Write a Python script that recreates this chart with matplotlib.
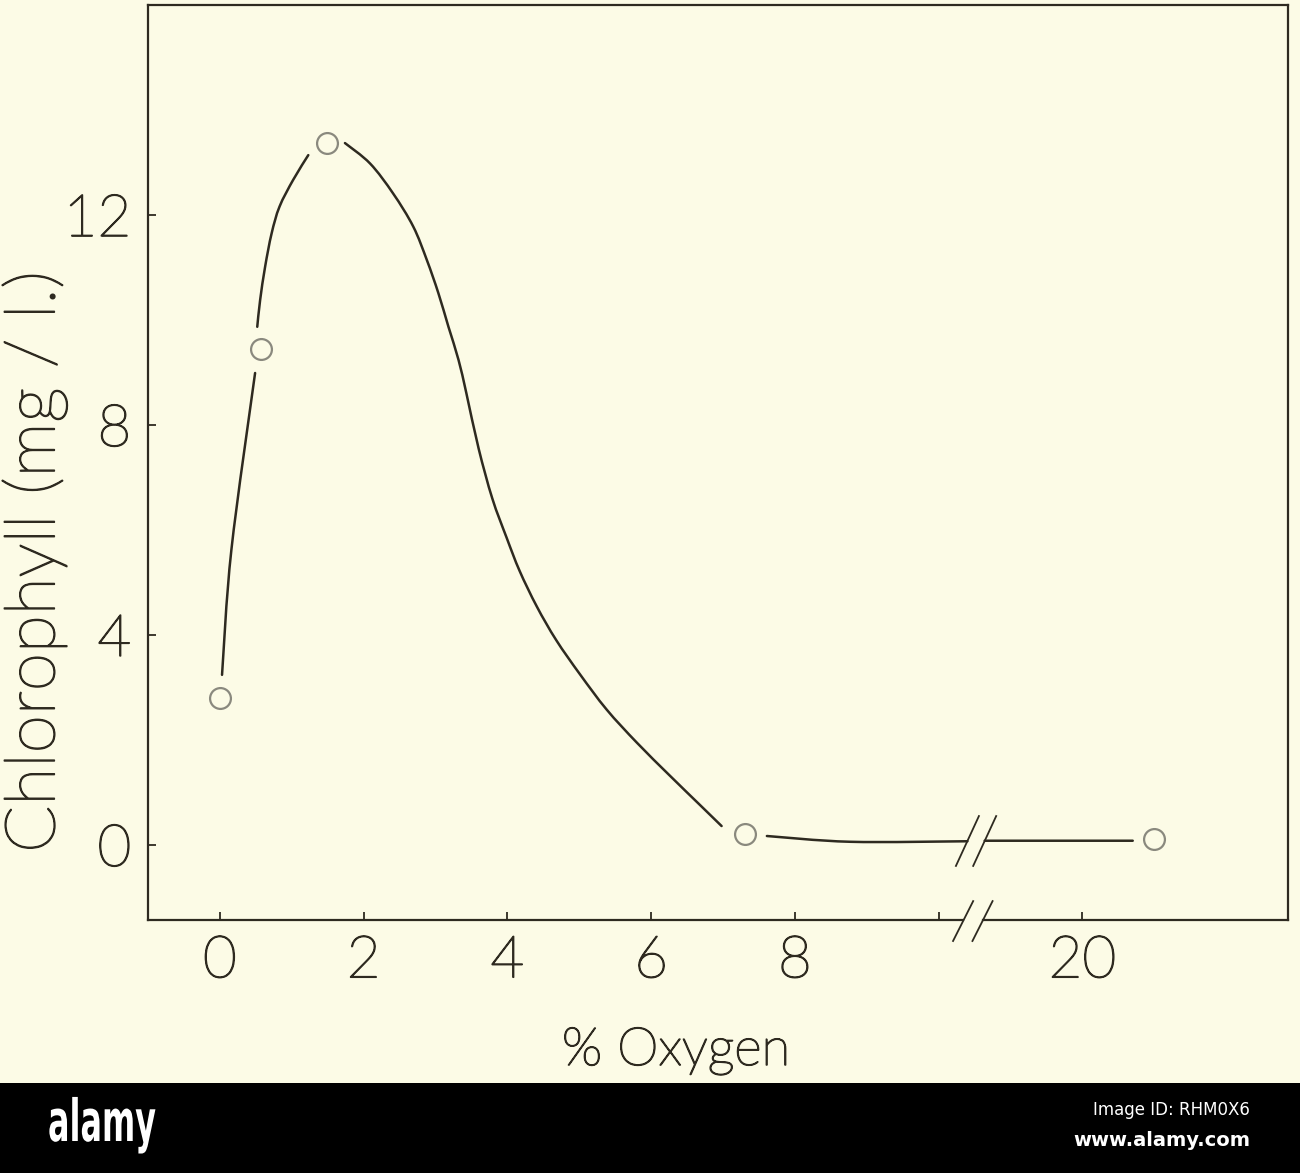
import matplotlib
matplotlib.use("Agg")
import matplotlib.pyplot as plt
import matplotlib.patheffects as pe
from matplotlib.path import Path
from matplotlib.patches import PathPatch
from matplotlib.textpath import TextPath
from matplotlib.font_manager import FontProperties
from matplotlib.transforms import Affine2D

# measured points (% oxygen, chlorophyll mg/l)
oxygen = [0.0, 0.57, 1.49, 7.30, 21.0]
chlorophyll = [2.8, 9.45, 13.38, 0.20, 0.11]

# hand drawn curve (gaps at the circles)
seg_a_x = [0.03, 0.16, 0.49]
seg_a_y = [3.24, 5.62, 8.99]
seg_b_x = [0.52, 0.56, 0.63, 0.72, 0.83, 1.02, 1.23]
seg_b_y = [9.87, 10.38, 11.02, 11.65, 12.16, 12.67, 13.14]
seg_c_x = [1.74, 2.09, 2.41, 2.69, 2.88, 3.04, 3.18, 3.32, 3.43, 3.60, 3.79,
           3.99, 4.17, 4.41, 4.68, 5.01, 5.38, 5.80, 6.26, 6.68, 6.98]
seg_c_y = [13.37, 12.98, 12.41, 11.78, 11.14, 10.51, 9.87, 9.24, 8.60, 7.55, 6.60,
           5.85, 5.22, 4.54, 3.90, 3.25, 2.58, 1.95, 1.32, 0.76, 0.36]
seg_d_x = [7.61, 8.77, 10.40]
seg_d_y = [0.17, 0.06, 0.07]
seg_e_x = [18.64, 20.70]
seg_e_y = [0.08, 0.08]

xticks = [0, 2, 4, 6, 8, 10, 20]
xticklabels = ['0', '2', '4', '6', '8', '', '20']
yticks = [0, 4, 8, 12]

BG = '#fcfbe6'
INK = '#2e2a20'


def pos(x):
    # broken axis: values above the break are shifted down by 8
    if isinstance(x, list):
        return [pos(v) for v in x]
    return x if x <= 10.5 else x - 8


def smooth_path(xs, ys):
    # catmull-rom through the read points, drawn as bezier pieces
    pts = list(zip(xs, ys))
    n = len(pts)
    verts = [pts[0]]
    codes = [Path.MOVETO]
    for i in range(n - 1):
        p0 = pts[i - 1] if i > 0 else pts[i]
        p1, p2 = pts[i], pts[i + 1]
        p3 = pts[i + 2] if i + 2 < n else pts[i + 1]
        c1 = (p1[0] + (p2[0] - p0[0]) / 6, p1[1] + (p2[1] - p0[1]) / 6)
        c2 = (p2[0] - (p3[0] - p1[0]) / 6, p2[1] - (p3[1] - p1[1]) / 6)
        verts += [c1, c2, p2]
        codes += [Path.CURVE4] * 3
    return Path(verts, codes)


fig = plt.figure(figsize=(13, 11.73), dpi=100, facecolor=BG)
ax = fig.add_axes([148 / 1300, 253 / 1173, 1140 / 1300, 915 / 1173], facecolor=BG)

for sx, sy in [(seg_a_x, seg_a_y), (seg_b_x, seg_b_y), (seg_c_x, seg_c_y),
               (seg_d_x, seg_d_y), (seg_e_x, seg_e_y)]:
    ax.add_patch(PathPatch(smooth_path(pos(sx), sy), fill=False, edgecolor=INK,
                           lw=1.8, capstyle='round'))

ax.plot(pos(oxygen), chlorophyll, ls='none', marker='o', ms=15,
        mfc=BG, mec='#8a897e', mew=1.6, zorder=3)

ax.set_xlim(-1.0, 14.86)
ax.set_ylim(-1.43, 16.0)

# slashes on the curve and on the axis
for cx in (10.40, 10.64):
    ax.plot([cx - 0.16, cx + 0.16], [-0.40, 0.55], color=INK, lw=1.3)
for cx in (10.34, 10.61):
    ax.plot([cx - 0.14, cx + 0.14], [-1.83, -1.07], color=INK, lw=1.3, clip_on=False)

ax.spines['bottom'].set_visible(False)
ax.plot([-1.0, 10.34], [-1.43, -1.43], color=INK, lw=1.6, clip_on=False)
ax.plot([10.61, 14.86], [-1.43, -1.43], color=INK, lw=1.6, clip_on=False)
for s in ['left', 'right', 'top']:
    ax.spines[s].set_color(INK)
    ax.spines[s].set_linewidth(1.6)

font = dict(family=['Lato', 'DejaVu Sans'], weight='light')
thick = [pe.withStroke(linewidth=1.1, foreground=INK)]
ax.set_xticks(pos(xticks))
ax.set_xticklabels(xticklabels, fontdict=font, fontsize=42, color=INK)
ax.set_yticks(yticks)
ax.set_yticklabels([str(v) for v in yticks], fontdict=font, fontsize=42, color=INK)
for t in ax.get_xticklabels() + ax.get_yticklabels():
    t.set_path_effects(thick)
ax.tick_params(direction='in', length=6, width=1.3, color=INK)
ax.tick_params(axis='x', pad=11)
ax.tick_params(axis='y', pad=12)

fig.text(676 / 1300, 1 - 1065 / 1173, '% Oxygen', ha='center', va='baseline',
         fontsize=38, color=INK, path_effects=thick, **font)
fig.text(3 / 1300, 1 - 562 / 1173, 'Chlorophyll (mg / l.)', ha='left', va='center',
         rotation=90, fontsize=50, color=INK, path_effects=thick, **font)

# stock photo footer strip
fig.patches.append(plt.Rectangle((0, 0), 1, 90 / 1173, transform=fig.transFigure,
                                 facecolor='black', edgecolor='none', zorder=1))
logo = TextPath((0, 0), 'alamy', size=58, prop=FontProperties(family='DejaVu Sans', weight='bold'))
logo_patch = PathPatch(logo, facecolor='white', edgecolor='none', zorder=10,
                       transform=Affine2D().scale(0.55, 1.0).translate(48, 1173 - 1141))
fig.add_artist(logo_patch)
fig.text(1250 / 1300, 1 - 1110 / 1173, 'Image ID: RHM0X6', ha='right', va='center',
         color='white', fontsize=12, family=['DejaVu Sans'], zorder=10)
fig.text(1250 / 1300, 1 - 1140 / 1173, 'www.alamy.com', ha='right', va='center',
         color='white', fontsize=14, fontweight='bold', family=['DejaVu Sans'], zorder=10)

fig.savefig('out.png', dpi=100, facecolor=BG)
